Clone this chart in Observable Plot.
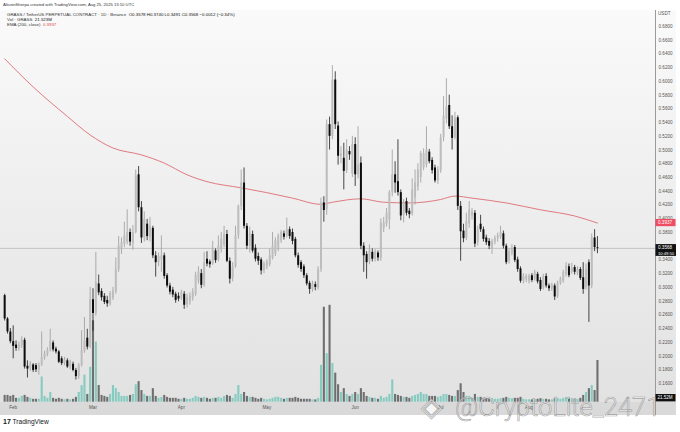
<!DOCTYPE html>
<html>
<head>
<meta charset="utf-8">
<script src="https://cdn.jsdelivr.net/npm/d3@7"></script>
<script src="https://cdn.jsdelivr.net/npm/@observablehq/plot@0.6"></script>
<style>
html,body{margin:0;padding:0;background:#fff;}
#wrap{position:relative;width:680px;height:432px;overflow:hidden;background:#fff;}
#pane{position:absolute;left:0;top:9.5px;width:676px;height:405px;background:linear-gradient(to bottom,#fafafa,#e1e1e1);}
#timestrip{position:absolute;left:0;top:402px;width:676px;height:12.5px;background:rgba(0,0,0,0.035);}
#axisline{position:absolute;left:655px;top:9.5px;width:0;height:405px;border-left:0.8px solid #9a9a9a;}
#wrap svg{position:absolute;left:0;top:0;}
</style>
</head>
<body>
<div id="wrap"><div id="pane"></div><div id="timestrip"></div><div id="axisline"></div></div>
<script>
// ---- data (daily candles, first candle 2025-01-29) ----
const startDay = "2025-01-29";
const opens = [
.288,.254,.235,.221,.216,.211,.215,.223,.185,.182,
.187,.186,.180,.187,.197,.202,.208,.219,.210,.206,
.196,.189,.193,.184,.188,.179,.170,.186,.207,.226,
.213,.282,.262,.305,.294,.287,.281,.276,.284,.293,
.326,.356,.363,.366,.380,.364,.380,.464,.416,.372,
.392,.372,.386,.346,.336,.340,.346,.317,.302,.296,
.290,.287,.284,.290,.275,.279,.284,.290,.309,.320,
.303,.341,.337,.334,.353,.340,.355,.362,.377,.338,
.313,.330,.375,.418,.452,.389,.360,.377,.357,.345,
.340,.324,.330,.333,.342,.348,.357,.368,.378,.375,
.384,.380,.370,.346,.336,.330,.317,.306,.297,.304,
.299,.326,.423,.413,.537,.520,.602,.535,.491,.488,
.470,.498,.465,.508,.464,.481,.360,.348,.338,.351,
.341,.350,.342,.386,.392,.398,.438,.464,.454,.438,
.405,.425,.411,.407,.430,.446,.460,.474,.478,.497,
.485,.474,.455,.470,.518,.545,.565,.534,.518,.547,
.418,.382,.372,.392,.404,.408,.365,.392,.384,.372,
.367,.356,.366,.371,.373,.378,.360,.338,.350,.358,
.340,.327,.309,.311,.309,.317,.312,.319,.310,.299,
.316,.302,.298,.302,.287,.306,.309,.318,.330,.322,
.329,.320,.326,.314,.300,.336,.302,.372,.3578];
const highs = [
.290,.256,.240,.244,.222,.220,.228,.226,.193,.192,
.189,.189,.190,.235,.207,.212,.239,.222,.213,.208,
.199,.198,.196,.194,.191,.182,.189,.237,.256,.239,
.300,.298,.351,.318,.298,.291,.287,.294,.300,.343,
.374,.372,.395,.413,.385,.390,.471,.476,.425,.410,
.399,.402,.389,.352,.350,.375,.350,.320,.306,.300,
.293,.292,.296,.294,.290,.292,.298,.322,.330,.326,
.351,.352,.340,.367,.356,.375,.380,.389,.383,.343,
.336,.389,.420,.471,.474,.393,.388,.382,.362,.350,
.343,.337,.340,.356,.380,.372,.378,.383,.382,.401,
.388,.385,.373,.350,.339,.333,.320,.309,.309,.308,
.330,.430,.432,.544,.548,.623,.614,.541,.505,.510,
.515,.505,.520,.518,.534,.490,.365,.352,.362,.356,
.355,.353,.400,.402,.415,.441,.500,.483,.515,.442,
.428,.430,.415,.458,.471,.480,.498,.502,.534,.501,
.489,.478,.476,.523,.578,.604,.580,.550,.555,.550,
.425,.392,.408,.425,.415,.412,.389,.405,.388,.376,
.371,.370,.375,.379,.389,.382,.363,.356,.362,.361,
.344,.330,.320,.319,.319,.320,.325,.322,.314,.319,
.320,.305,.306,.305,.309,.315,.325,.336,.334,.335,
.332,.330,.329,.336,.334,.340,.378,.384,.3740];
const lows = [
.251,.232,.218,.196,.207,.207,.211,.181,.168,.178,
.176,.176,.172,.185,.194,.199,.206,.206,.203,.189,
.186,.186,.182,.180,.177,.165,.166,.184,.204,.209,
.211,.236,.258,.288,.280,.275,.271,.273,.281,.290,
.322,.348,.358,.362,.360,.354,.378,.410,.364,.366,
.368,.366,.342,.315,.330,.322,.312,.299,.289,.285,
.277,.279,.281,.268,.270,.274,.280,.287,.305,.298,
.300,.330,.328,.332,.335,.337,.350,.358,.336,.305,
.308,.328,.370,.412,.385,.355,.350,.350,.337,.332,
.318,.320,.326,.330,.340,.345,.352,.364,.369,.372,
.370,.362,.343,.328,.322,.313,.302,.290,.293,.295,
.296,.322,.395,.405,.500,.515,.530,.478,.480,.442,
.466,.485,.460,.447,.458,.355,.322,.312,.333,.337,
.337,.338,.338,.380,.388,.384,.432,.437,.433,.397,
.394,.404,.400,.404,.420,.440,.452,.470,.474,.480,
.465,.452,.450,.466,.512,.538,.530,.500,.515,.412,
.338,.365,.368,.386,.398,.358,.360,.380,.366,.361,
.355,.348,.362,.366,.370,.356,.333,.334,.346,.336,
.322,.306,.305,.307,.305,.307,.309,.305,.294,.296,
.299,.294,.294,.281,.284,.303,.306,.315,.314,.319,
.318,.317,.310,.290,.296,.249,.298,.352,.3491];
const closes = [
.254,.235,.221,.214,.211,.216,.223,.184,.181,.188,
.179,.180,.187,.198,.203,.208,.221,.209,.206,.191,
.189,.194,.184,.191,.179,.170,.186,.208,.222,.213,
.282,.262,.307,.292,.285,.278,.276,.291,.295,.326,
.360,.365,.375,.380,.366,.380,.462,.416,.372,.399,
.374,.389,.346,.336,.345,.346,.316,.302,.293,.289,
.281,.283,.292,.274,.285,.287,.293,.317,.322,.303,
.336,.334,.333,.355,.339,.360,.370,.377,.338,.312,
.330,.375,.418,.452,.389,.360,.378,.353,.341,.338,
.324,.334,.336,.346,.360,.368,.375,.380,.373,.384,
.374,.367,.346,.332,.326,.317,.305,.297,.305,.300,
.326,.423,.412,.537,.520,.602,.537,.491,.494,.469,
.500,.493,.508,.464,.478,.360,.346,.336,.353,.341,
.352,.343,.394,.394,.408,.438,.464,.452,.438,.404,
.423,.408,.406,.442,.452,.471,.495,.495,.500,.483,
.470,.455,.471,.518,.549,.563,.534,.517,.547,.418,
.381,.371,.396,.413,.410,.363,.384,.384,.370,.365,
.360,.367,.372,.375,.380,.360,.336,.352,.355,.339,
.326,.309,.316,.316,.316,.310,.321,.308,.297,.316,
.302,.298,.303,.286,.306,.312,.322,.331,.317,.328,
.322,.326,.313,.297,.326,.302,.372,.358,.3568];
const volumes = [ // millions
3.5,3.5,3,3.5,2,2,3,3.5,2.5,2,
1.5,1.5,1.5,13,3,2,5,2,1.5,2,
1.5,1.2,1.5,1.2,1.5,2.5,5,8.5,14,4,
18,42,31,8.6,3.5,3,2.5,4,8.6,7,
5,3,3,3,3.5,4,9,10.6,6,4,
3,3,7,3,2,2.5,3.5,2.5,2,2,
2,1.5,1.5,2,1.5,1.5,2,3,2.5,2,
2.5,2,1.5,2,2,2.5,2,3,3.5,3,
2,4,8.6,4,5,3,2.5,2.5,2,1.5,
2,1.5,1.2,1.5,2,2.5,2.5,2,1.5,2,
2,2,2.5,2,1.5,1.5,1.5,1.5,1.2,1.2,
2,19,49,25,50,20,15,9,5,7,
4,3,4,5,4,7,5,3,2.5,2,
2,1.5,3,2,2.5,4,11.5,4,3.5,3,
2.5,2.5,2,3,3.5,4,5,4,4,3,
3,3,2.5,3,4,4,3.5,3,3,6,
9.5,5,3,3,2,4,2.5,2.5,2,2,
1.8,1.8,1.5,1.5,1.8,2,2.5,2,1.8,2,
2,2.5,1.5,1.2,1.2,1.2,1.5,1.5,1.8,1.5,
1.5,1.2,1.2,1.8,2,1.5,2,2.5,2,1.8,
1.5,1.5,2,3.5,5,7,8.6,6,21.523];
const emaDates = ["2025-01-29","2025-02-08","2025-02-20","2025-02-28","2025-03-08","2025-03-18","2025-03-26","2025-04-03","2025-04-10","2025-04-22","2025-05-01","2025-05-10","2025-05-20","2025-05-24","2025-06-03","2025-06-11","2025-06-20","2025-07-01","2025-07-06","2025-07-12","2025-07-24","2025-08-05","2025-08-17","2025-08-25"];
const emaValues = [.633,.592,.549,.522,.503,.493,.481,.464,.454,.445,.438,.430,.421,.424,.429,.424,.423,.428,.433,.430,.423,.413,.404,.3937];
const priceTicks = [.68,.66,.64,.62,.60,.58,.56,.54,.52,.50,.48,.46,.44,.42,.40,.38,.36,.34,.32,.30,.28,.26,.24,.22,.20,.18,.16];
const monthLabels = ["Feb","Mar","Apr","May","Jun","Jul","Aug"];
const monthStarts = ["2025-02-01","2025-03-01","2025-04-01","2025-05-01","2025-06-01","2025-07-01","2025-08-01"];

// ---- build ----
const t0 = new Date(startDay + "T00:00:00Z");
const candles = closes.map((c, i) => ({date: d3.utcDay.offset(t0, i), open: opens[i], high: highs[i], low: lows[i], close: c, volume: volumes[i]}));
const ema = emaDates.map((d, i) => ({date: new Date(d + "T00:00:00Z"), value: emaValues[i]}));
const DAY = 864e5, feb1 = Date.UTC(2025, 1, 1);
const xDomain = [new Date(feb1 - 4.456 * DAY), new Date(feb1 + 225.37 * DAY)];
const up = d => d.close >= d.open;
const font = "'Liberation Sans', Arial, sans-serif";
const monthDates = monthStarts.map(s => new Date(s + "T00:00:00Z"));

const volPlot = Plot.plot({
  width: 680, height: 432, marginLeft: 0, marginRight: 25, marginTop: 304.8, marginBottom: 30.3,
  x: {type: "utc", domain: xDomain},
  y: {domain: [0, 50], axis: null},
  color: {type: "identity"},
  style: {background: "transparent", fontFamily: font, overflow: "visible"},
  marks: [
    Plot.ruleX(candles, {x: "date", y1: 0, y2: "volume", stroke: d => up(d) ? "#86cbc0" : "#6f6f6f", strokeWidth: 2.1}),
    Plot.axisX(monthDates, {tickSize: 0, tickPadding: 3.5, fontSize: 4.6, fill: "#555", label: null,
      tickFormat: d => monthLabels[monthStarts.indexOf(d.toISOString().slice(0, 10))]})
  ]
});

const last = candles[candles.length - 1];
const pricePlot = Plot.plot({
  width: 680, height: 432, marginLeft: 0, marginRight: 25, marginTop: 26, marginBottom: 49,
  x: {type: "utc", domain: xDomain, axis: null},
  y: {domain: [0.16, 0.68], axis: null},
  color: {type: "identity"},
  style: {background: "transparent", fontFamily: font, overflow: "visible"},
  marks: [
    Plot.ruleY([last.close], {stroke: "#a8a8a8", strokeWidth: 0.6}),
    Plot.line(ema, {x: "date", y: "value", stroke: "#e07a80", strokeWidth: 1, curve: "monotone-x"}),
    Plot.ruleX(candles, {x: "date", y1: "low", y2: "high", stroke: d => up(d) ? "#9a9a9a" : "#1a1a1a", strokeWidth: 0.8}),
    Plot.ruleX(candles, {x: "date", y1: "open", y2: "close", stroke: d => up(d) ? "#bdbdbd" : "#0d0d0d", strokeWidth: 2}),
    Plot.axisY(priceTicks, {anchor: "right", tickSize: 0, tickPadding: 3, fontSize: 4.6, fill: "#555", label: null, tickFormat: d => d.toFixed(4)})
  ]
});

const wrap = document.getElementById("wrap");
wrap.appendChild(volPlot);
wrap.appendChild(pricePlot);

// ---- overlays: header, price labels, watermark ----
const svg = d3.select(pricePlot);
const ys = pricePlot.scale("y");
const g = svg.append("g").attr("font-family", font).attr("fill", "#333").attr("text-anchor", "start");
g.append("text").attr("x", 3).attr("y", 5.6).attr("font-size", 4.2).text("AltcoinSherpa created with TradingView.com, Aug 25, 2025 13:10 UTC");
const chg = last.close - closes[closes.length - 2];
const l2 = g.append("text").attr("x", 7).attr("y", 15.8).attr("font-size", 4.4);
l2.append("tspan").text("GRASS / TetherUS PERPETUAL CONTRACT · 1D · Binance  ");
l2.append("tspan").attr("fill", "#111").text(`O${last.open.toFixed(4)} H${last.high.toFixed(4)} L${last.low.toFixed(4)} C${last.close.toFixed(4)} −${Math.abs(chg).toFixed(4)} (−0.34%)`);
const l3 = g.append("text").attr("x", 7).attr("y", 21).attr("font-size", 4.4);
l3.append("tspan").text("Vol · GRASS  ");
l3.append("tspan").attr("fill", "#111").text("21.523M");
const l4 = g.append("text").attr("x", 7).attr("y", 26.3).attr("font-size", 4.4);
l4.append("tspan").text("EMA (200, close)  ");
l4.append("tspan").attr("fill", "#e0464f").text(emaValues[emaValues.length - 1].toFixed(4));
g.append("text").attr("x", 658).attr("y", 14.5).attr("font-size", 4.6).attr("fill", "#555").text("USDT");

// EMA label
const ye = ys.apply(emaValues[emaValues.length - 1]);
g.append("rect").attr("x", 655.5).attr("y", ye - 3.6).attr("width", 20).attr("height", 7.2).attr("fill", "#ee4d62");
g.append("text").attr("x", 658).attr("y", ye + 1.6).attr("font-size", 4.6).attr("fill", "#fff").text(emaValues[emaValues.length - 1].toFixed(4));
// last price label
const yc = ys.apply(last.close);
g.append("rect").attr("x", 655.5).attr("y", yc - 3.8).attr("width", 20.5).attr("height", 11.8).attr("fill", "#111");
g.append("text").attr("x", 658).attr("y", yc + 1.6).attr("font-size", 4.6).attr("fill", "#fff").text(last.close.toFixed(4));
g.append("text").attr("x", 658).attr("y", yc + 6.8).attr("font-size", 4.1).attr("fill", "#fff").text("10:49:50");
// volume label
g.append("rect").attr("x", 655.5).attr("y", 394).attr("width", 20).attr("height", 7.4).attr("fill", "#111");
g.append("text").attr("x", 657.5).attr("y", 399.4).attr("font-size", 4.5).attr("fill", "#fff").text("21.52M");

// TradingView logo
g.append("text").attr("x", 3).attr("y", 424).attr("font-size", 7).attr("font-weight", "bold").attr("fill", "#131722").text("17");
g.append("text").attr("x", 12.5).attr("y", 424).attr("font-size", 6.6).attr("fill", "#131722").text("TradingView");

// watermark
const wm = svg.append("g").attr("font-family", "Roboto, 'Open Sans', sans-serif").attr("text-anchor", "start");
wm.append("text").attr("x", 421).attr("y", 416).attr("font-size", 27).attr("fill", "rgba(255,255,255,0.8)").attr("stroke", "rgba(110,110,110,0.55)").attr("stroke-width", 0.7).text("◈");
wm.append("text").attr("x", 455).attr("y", 416).attr("font-size", 25.5).attr("font-weight", 300).attr("fill", "rgba(255,255,255,0.8)").attr("stroke", "rgba(110,110,110,0.6)").attr("stroke-width", 0.7).text("@CryptoLite_2471");
</script>
</body>
</html>
